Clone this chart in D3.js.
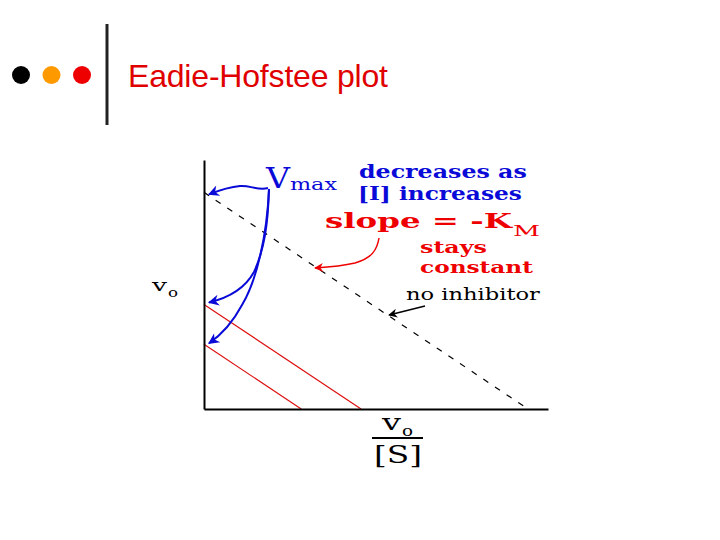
<!DOCTYPE html>
<html>
<head>
<meta charset="utf-8">
<script src="https://cdn.jsdelivr.net/npm/d3@7"></script>
<style>
  body { margin: 0; background: #fff; }
  svg { display: block; }
</style>
</head>
<body>
<svg id="chart" width="720" height="540"></svg>
<script>
// lines of the Eadie-Hofstee plot (v0 vs v0/[S])
var lineNames = ["no inhibitor", "inhibitor low", "inhibitor high"];
var vmax = [8.7, 4.2, 2.6];          // y intercepts
var xIntercept = [13.0, 6.3, 3.9];   // x intercepts (Vmax / KM)
var bulletColors = ["#000000", "#ff9900", "#ee0000"];

var svg = d3.select("#chart");
svg.append("rect").attr("width", 720).attr("height", 540).attr("fill", "#fff");

// slide header
svg.selectAll(".bullet")
    .data(bulletColors)
  .enter().append("circle")
    .attr("class", "bullet")
    .attr("cx", function(d, i) { return 21 + i * 30.5; })
    .attr("cy", 75)
    .attr("r", 9)
    .attr("fill", function(d) { return d; });

svg.append("line")
    .attr("x1", 107).attr("x2", 107)
    .attr("y1", 24).attr("y2", 125)
    .attr("stroke", "#222").attr("stroke-width", 3);

svg.append("text")
    .attr("x", 128).attr("y", 87)
    .attr("font-family", "Liberation Sans, Arial, sans-serif")
    .attr("font-size", "32px")
    .attr("fill", "#e00000")
    .attr("textLength", 260)
    .text("Eadie-Hofstee plot");

// scales
var x = d3.scaleLinear().domain([0, 13.8]).range([204, 548]);
var y = d3.scaleLinear().domain([0, 10]).range([409, 160]);

// lines
var lines = vmax.map(function(v, i) {
    return { name: lineNames[i], pts: [[0, v], [xIntercept[i], 0]] };
});
var lineGen = d3.line()
    .x(function(d) { return x(d[0]); })
    .y(function(d) { return y(d[1]); });

svg.selectAll(".kin")
    .data(lines)
  .enter().append("path")
    .attr("class", "kin")
    .attr("d", function(d) { return lineGen(d.pts); })
    .attr("fill", "none")
    .attr("stroke", function(d, i) { return i === 0 ? "#000" : "#dd1111"; })
    .attr("stroke-width", 1.2)
    .attr("stroke-dasharray", function(d, i) { return i === 0 ? "6,8" : null; });

// axes, no ticks
svg.append("g")
    .attr("transform", "translate(" + x(0) + ",0)")
    .call(d3.axisLeft(y).ticks(0).tickSizeOuter(0));
svg.append("g")
    .attr("transform", "translate(0," + y(0) + ")")
    .call(d3.axisBottom(x).ticks(0).tickSizeOuter(0));
svg.selectAll(".domain").attr("stroke", "#000").attr("stroke-width", 2);

// arrow heads
var defs = svg.append("defs");
[["blueHead", "#0a0ad8", 7, 5.5], ["redHead", "#ee0000", 8, 6], ["blackHead", "#000", 8, 6]].forEach(function(m) {
    defs.append("marker")
        .attr("id", m[0])
        .attr("viewBox", "0 0 10 10")
        .attr("refX", 9).attr("refY", 5)
        .attr("markerWidth", m[2]).attr("markerHeight", m[3])
        .attr("markerUnits", "strokeWidth")
        .attr("orient", "auto")
      .append("path")
        .attr("d", "M0,0L10,5L0,10L3,5Z")
        .attr("fill", m[1]);
});

var serif = "DejaVu Serif, serif";
var blue = "#0a0ad8", red = "#ee0000";

// old bitmap lettering is wide: draw text, then stretch it to the width seen
function label(tx, ty, str, size, color, bold, width) {
    var t = svg.append("text")
        .attr("font-family", serif)
        .attr("font-size", size + "px")
        .attr("font-weight", bold ? "bold" : "normal")
        .attr("fill", color)
        .text(str);
    var w = t.node().getComputedTextLength();
    var k = width ? width / w : 1;
    t.attr("transform", "translate(" + tx + "," + ty + ") scale(" + k + ",1)");
    return t;
}

// Vmax label and arrows
label(266, 188, "V", 27, blue, false, 24);
label(290, 190, "max", 16, blue, false, 47);

var blueArrows = [
    "M268,188 C258,191 250,185 240,186 C228,187 220,190 " + (x(0) + 5) + "," + (y(vmax[0]) + 2),
    "M269,189 C268,225 264,250 254,272 C244,290 228,298 " + (x(0) + 5) + "," + (y(vmax[1]) - 2),
    "M269,189 C267,235 257,280 242,305 C234,320 224,333 " + (x(0) + 5) + "," + (y(vmax[2]) - 1)
];
svg.selectAll(".barrow")
    .data(blueArrows)
  .enter().append("path")
    .attr("class", "barrow")
    .attr("d", function(d) { return d; })
    .attr("fill", "none")
    .attr("stroke", blue).attr("stroke-width", 2)
    .attr("marker-end", "url(#blueHead)");

label(359, 178, "decreases as", 18, blue, true, 168);
label(358, 200, "[I] increases", 18, blue, true, 164);

// slope label
label(325, 228, "slope = -K", 20, red, true, 187);
label(513, 236, "M", 15, red, false, 27);
label(420, 253, "stays", 16, red, true, 67);
label(420, 273, "constant", 16, red, true, 113);

svg.append("path")
    .attr("d", "M379,238 C377,250 372,258 355,263 C342,266 330,267 315,268")
    .attr("fill", "none").attr("stroke", red).attr("stroke-width", 1.5)
    .attr("marker-end", "url(#redHead)");

// no inhibitor label
label(406, 300, "no inhibitor", 17, "#000", false, 134);
svg.append("path")
    .attr("d", "M425,306 L389,315")
    .attr("fill", "none").attr("stroke", "#000").attr("stroke-width", 1.5)
    .attr("marker-end", "url(#blackHead)");

// axis titles
label(152, 291, "v", 17, "#000", false, 15);
label(168, 297, "o", 13, "#000", false, 10);

label(382, 430, "v", 23, "#000", false, 19);
label(402, 436, "o", 14, "#000", false, 11);
svg.append("line")
    .attr("x1", 372).attr("x2", 423).attr("y1", 438).attr("y2", 438)
    .attr("stroke", "#000").attr("stroke-width", 2);
label(374, 463, "[S]", 25, "#000", false, 48);
</script>
</body>
</html>
